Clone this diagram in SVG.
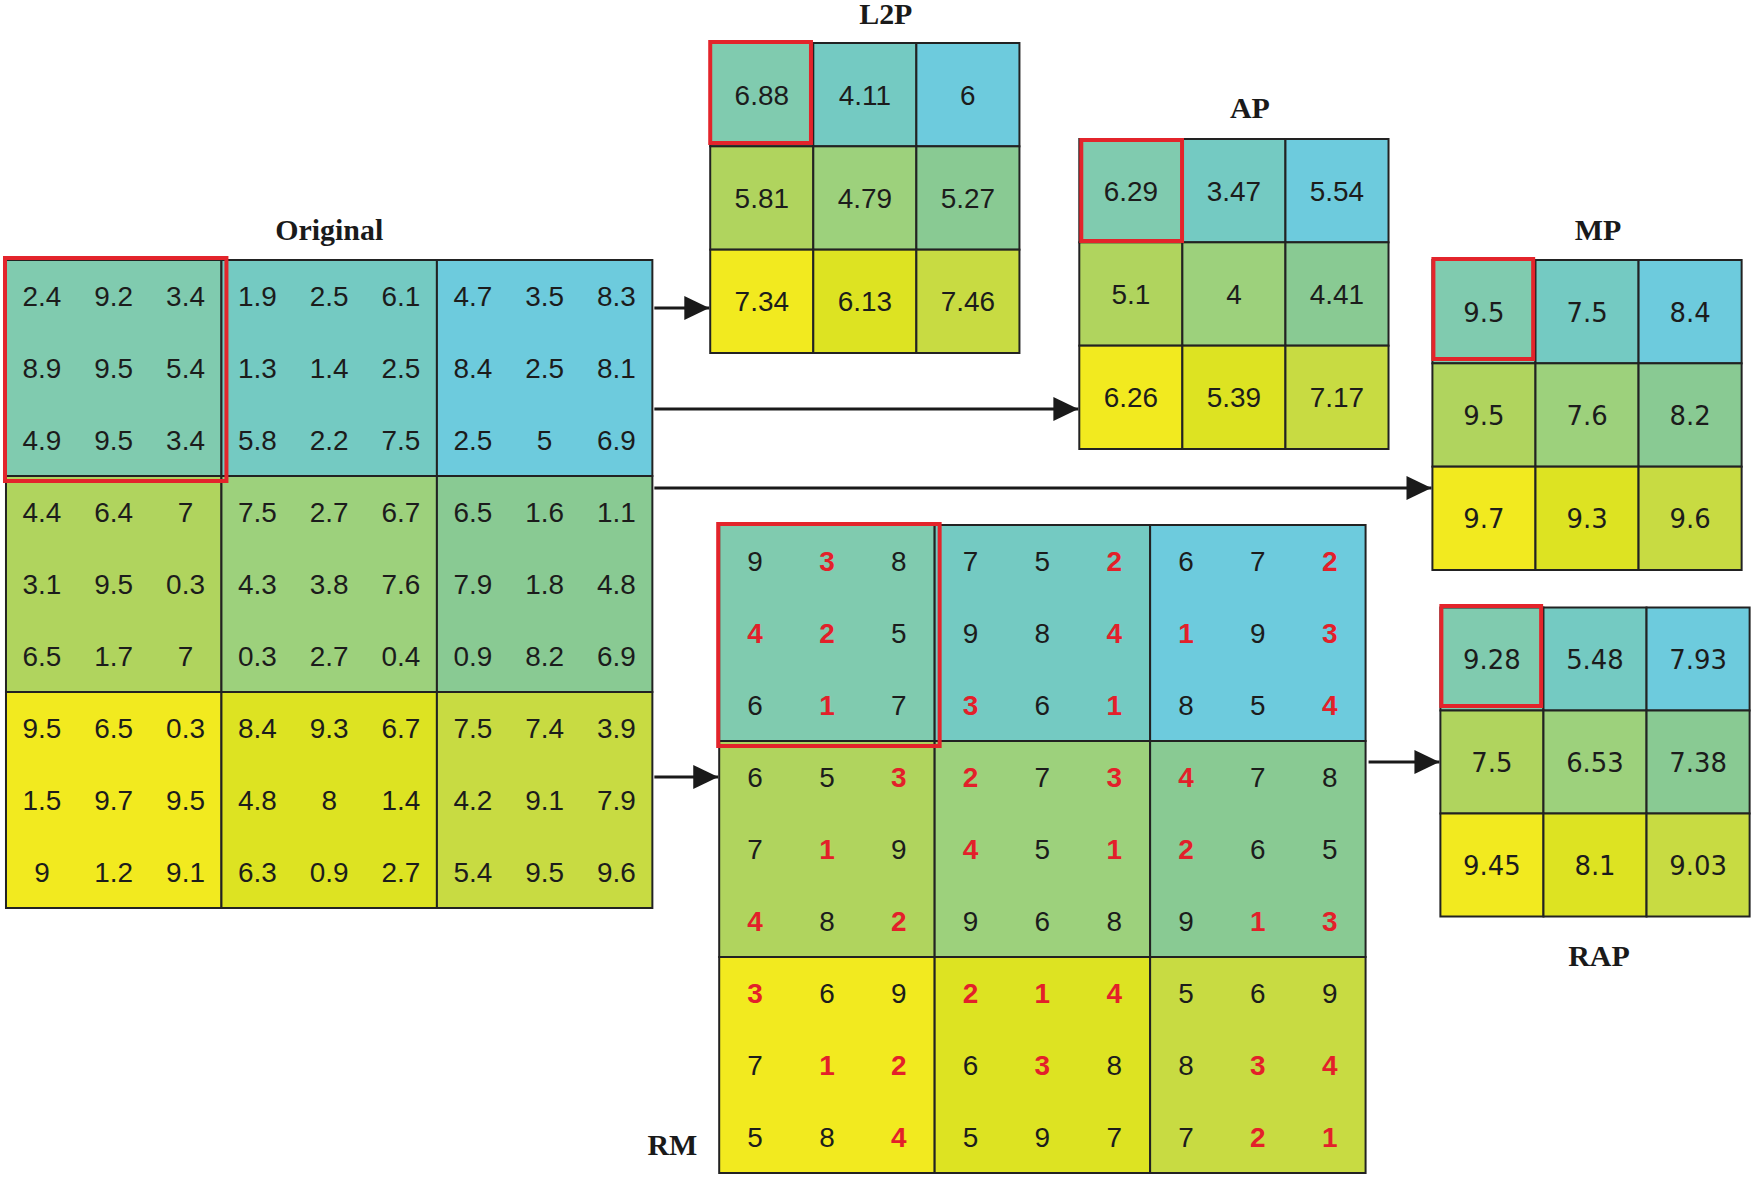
<svg xmlns="http://www.w3.org/2000/svg" width="1757" height="1179" viewBox="0 0 1757 1179">
<defs>
<style>
.n{font-family:"Liberation Sans",Arial,sans-serif;font-size:28px;text-anchor:middle;fill:#1c1c1c}
.w{font-family:"DejaVu Sans","Liberation Sans",sans-serif;font-size:26px;text-anchor:middle;fill:#1c1c1c}
.r{fill:#E3202A;font-weight:bold}
.lbl{font-family:"Liberation Serif","Times New Roman",serif;font-size:30px;font-weight:bold;text-anchor:middle;fill:#1a1a1a}
.c{stroke:#222;stroke-width:2}
.a{fill:#80CBAF}.b{fill:#74CAC2}.d{fill:#6DCBDD}
.e{fill:#B0D45E}.f{fill:#9DD17C}.g{fill:#89CA93}
.h{fill:#F2EA1F}.i{fill:#DDE322}.j{fill:#C8DB42}
.sel{fill:none;stroke:#E3242B;stroke-width:4}
.ln{stroke:#1a1a1a;stroke-width:3;fill:none}
</style>
<marker id="ah" markerUnits="userSpaceOnUse" markerWidth="26" markerHeight="26" refX="25" refY="12" orient="auto" viewBox="0 0 26 24">
<path d="M0,0 L25,12 L0,24 Z" fill="#1a1a1a"/>
</marker>
</defs>
<rect width="1757" height="1179" fill="#ffffff"/>
<g transform="scale(0.9975 1)">

<g id="original">
<rect class="c a" x="6" y="260" width="216" height="216"/>
<rect class="c b" x="222" y="260" width="216" height="216"/>
<rect class="c d" x="438" y="260" width="216" height="216"/>
<rect class="c e" x="6" y="476" width="216" height="216"/>
<rect class="c f" x="222" y="476" width="216" height="216"/>
<rect class="c g" x="438" y="476" width="216" height="216"/>
<rect class="c h" x="6" y="692" width="216" height="216"/>
<rect class="c i" x="222" y="692" width="216" height="216"/>
<rect class="c j" x="438" y="692" width="216" height="216"/>
<text class="lbl" x="330" y="240">Original</text>
<g class="n">
<text x="42" y="306">2.4</text><text x="114" y="306">9.2</text><text x="186" y="306">3.4</text><text x="258" y="306">1.9</text><text x="330" y="306">2.5</text><text x="402" y="306">6.1</text><text x="474" y="306">4.7</text><text x="546" y="306">3.5</text><text x="618" y="306">8.3</text>
<text x="42" y="378">8.9</text><text x="114" y="378">9.5</text><text x="186" y="378">5.4</text><text x="258" y="378">1.3</text><text x="330" y="378">1.4</text><text x="402" y="378">2.5</text><text x="474" y="378">8.4</text><text x="546" y="378">2.5</text><text x="618" y="378">8.1</text>
<text x="42" y="450">4.9</text><text x="114" y="450">9.5</text><text x="186" y="450">3.4</text><text x="258" y="450">5.8</text><text x="330" y="450">2.2</text><text x="402" y="450">7.5</text><text x="474" y="450">2.5</text><text x="546" y="450">5</text><text x="618" y="450">6.9</text>
<text x="42" y="522">4.4</text><text x="114" y="522">6.4</text><text x="186" y="522">7</text><text x="258" y="522">7.5</text><text x="330" y="522">2.7</text><text x="402" y="522">6.7</text><text x="474" y="522">6.5</text><text x="546" y="522">1.6</text><text x="618" y="522">1.1</text>
<text x="42" y="594">3.1</text><text x="114" y="594">9.5</text><text x="186" y="594">0.3</text><text x="258" y="594">4.3</text><text x="330" y="594">3.8</text><text x="402" y="594">7.6</text><text x="474" y="594">7.9</text><text x="546" y="594">1.8</text><text x="618" y="594">4.8</text>
<text x="42" y="666">6.5</text><text x="114" y="666">1.7</text><text x="186" y="666">7</text><text x="258" y="666">0.3</text><text x="330" y="666">2.7</text><text x="402" y="666">0.4</text><text x="474" y="666">0.9</text><text x="546" y="666">8.2</text><text x="618" y="666">6.9</text>
<text x="42" y="738">9.5</text><text x="114" y="738">6.5</text><text x="186" y="738">0.3</text><text x="258" y="738">8.4</text><text x="330" y="738">9.3</text><text x="402" y="738">6.7</text><text x="474" y="738">7.5</text><text x="546" y="738">7.4</text><text x="618" y="738">3.9</text>
<text x="42" y="810">1.5</text><text x="114" y="810">9.7</text><text x="186" y="810">9.5</text><text x="258" y="810">4.8</text><text x="330" y="810">8</text><text x="402" y="810">1.4</text><text x="474" y="810">4.2</text><text x="546" y="810">9.1</text><text x="618" y="810">7.9</text>
<text x="42" y="882">9</text><text x="114" y="882">1.2</text><text x="186" y="882">9.1</text><text x="258" y="882">6.3</text><text x="330" y="882">0.9</text><text x="402" y="882">2.7</text><text x="474" y="882">5.4</text><text x="546" y="882">9.5</text><text x="618" y="882">9.6</text>
</g>
<rect class="sel" x="5" y="258" width="222" height="223"/>
</g>

<g id="l2p">
<rect class="c a" x="712" y="43" width="103.33" height="103.33"/>
<rect class="c b" x="815.33" y="43" width="103.33" height="103.33"/>
<rect class="c d" x="918.67" y="43" width="103.33" height="103.33"/>
<rect class="c e" x="712" y="146.33" width="103.33" height="103.33"/>
<rect class="c f" x="815.33" y="146.33" width="103.33" height="103.33"/>
<rect class="c g" x="918.67" y="146.33" width="103.33" height="103.33"/>
<rect class="c h" x="712" y="249.67" width="103.33" height="103.33"/>
<rect class="c i" x="815.33" y="249.67" width="103.33" height="103.33"/>
<rect class="c j" x="918.67" y="249.67" width="103.33" height="103.33"/>
<text class="lbl" x="888" y="24">L2P</text>
<g class="n">
<text x="763.7" y="104.7">6.88</text><text x="867" y="104.7">4.11</text><text x="970.3" y="104.7">6</text>
<text x="763.7" y="208">5.81</text><text x="867" y="208">4.79</text><text x="970.3" y="208">5.27</text>
<text x="763.7" y="311.3">7.34</text><text x="867" y="311.3">6.13</text><text x="970.3" y="311.3">7.46</text>
</g>
<rect class="sel" x="712" y="42" width="101" height="101"/>
</g>

<g id="ap">
<rect class="c a" x="1082" y="139" width="103.33" height="103.33"/>
<rect class="c b" x="1185.33" y="139" width="103.33" height="103.33"/>
<rect class="c d" x="1288.67" y="139" width="103.33" height="103.33"/>
<rect class="c e" x="1082" y="242.33" width="103.33" height="103.33"/>
<rect class="c f" x="1185.33" y="242.33" width="103.33" height="103.33"/>
<rect class="c g" x="1288.67" y="242.33" width="103.33" height="103.33"/>
<rect class="c h" x="1082" y="345.67" width="103.33" height="103.33"/>
<rect class="c i" x="1185.33" y="345.67" width="103.33" height="103.33"/>
<rect class="c j" x="1288.67" y="345.67" width="103.33" height="103.33"/>
<text class="lbl" x="1253" y="118">AP</text>
<g class="n">
<text x="1133.7" y="200.7">6.29</text><text x="1237" y="200.7">3.47</text><text x="1340.3" y="200.7">5.54</text>
<text x="1133.7" y="304">5.1</text><text x="1237" y="304">4</text><text x="1340.3" y="304">4.41</text>
<text x="1133.7" y="407.3">6.26</text><text x="1237" y="407.3">5.39</text><text x="1340.3" y="407.3">7.17</text>
</g>
<rect class="sel" x="1084" y="140" width="101" height="101"/>
</g>

<g id="mp">
<rect class="c a" x="1436" y="260" width="103.33" height="103.33"/>
<rect class="c b" x="1539.33" y="260" width="103.33" height="103.33"/>
<rect class="c d" x="1642.67" y="260" width="103.33" height="103.33"/>
<rect class="c e" x="1436" y="363.33" width="103.33" height="103.33"/>
<rect class="c f" x="1539.33" y="363.33" width="103.33" height="103.33"/>
<rect class="c g" x="1642.67" y="363.33" width="103.33" height="103.33"/>
<rect class="c h" x="1436" y="466.67" width="103.33" height="103.33"/>
<rect class="c i" x="1539.33" y="466.67" width="103.33" height="103.33"/>
<rect class="c j" x="1642.67" y="466.67" width="103.33" height="103.33"/>
<text class="lbl" x="1602" y="240">MP</text>
<g class="w">
<text x="1487.7" y="321.7">9.5</text><text x="1591" y="321.7">7.5</text><text x="1694.3" y="321.7">8.4</text>
<text x="1487.7" y="425">9.5</text><text x="1591" y="425">7.6</text><text x="1694.3" y="425">8.2</text>
<text x="1487.7" y="528.3">9.7</text><text x="1591" y="528.3">9.3</text><text x="1694.3" y="528.3">9.6</text>
</g>
<rect class="sel" x="1437" y="259" width="100" height="100"/>
</g>

<g id="rap">
<rect class="c a" x="1444" y="607.5" width="103.33" height="103"/>
<rect class="c b" x="1547.33" y="607.5" width="103.33" height="103"/>
<rect class="c d" x="1650.67" y="607.5" width="103.33" height="103"/>
<rect class="c e" x="1444" y="710.5" width="103.33" height="103"/>
<rect class="c f" x="1547.33" y="710.5" width="103.33" height="103"/>
<rect class="c g" x="1650.67" y="710.5" width="103.33" height="103"/>
<rect class="c h" x="1444" y="813.5" width="103.33" height="103"/>
<rect class="c i" x="1547.33" y="813.5" width="103.33" height="103"/>
<rect class="c j" x="1650.67" y="813.5" width="103.33" height="103"/>
<text class="lbl" x="1603" y="966">RAP</text>
<g class="w">
<text x="1495.7" y="669">9.28</text><text x="1599" y="669">5.48</text><text x="1702.3" y="669">7.93</text>
<text x="1495.7" y="772">7.5</text><text x="1599" y="772">6.53</text><text x="1702.3" y="772">7.38</text>
<text x="1495.7" y="875">9.45</text><text x="1599" y="875">8.1</text><text x="1702.3" y="875">9.03</text>
</g>
<rect class="sel" x="1445" y="606" width="100" height="100"/>
</g>

<g id="rm">
<rect class="c a" x="721" y="525" width="216" height="216"/>
<rect class="c b" x="937" y="525" width="216" height="216"/>
<rect class="c d" x="1153" y="525" width="216" height="216"/>
<rect class="c e" x="721" y="741" width="216" height="216"/>
<rect class="c f" x="937" y="741" width="216" height="216"/>
<rect class="c g" x="1153" y="741" width="216" height="216"/>
<rect class="c h" x="721" y="957" width="216" height="216"/>
<rect class="c i" x="937" y="957" width="216" height="216"/>
<rect class="c j" x="1153" y="957" width="216" height="216"/>
<text class="lbl" x="674" y="1155">RM</text>
<g class="n">
<text x="757" y="571">9</text><text class="r" x="829" y="571">3</text><text x="901" y="571">8</text><text x="973" y="571">7</text><text x="1045" y="571">5</text><text class="r" x="1117" y="571">2</text><text x="1189" y="571">6</text><text x="1261" y="571">7</text><text class="r" x="1333" y="571">2</text>
<text class="r" x="757" y="643">4</text><text class="r" x="829" y="643">2</text><text x="901" y="643">5</text><text x="973" y="643">9</text><text x="1045" y="643">8</text><text class="r" x="1117" y="643">4</text><text class="r" x="1189" y="643">1</text><text x="1261" y="643">9</text><text class="r" x="1333" y="643">3</text>
<text x="757" y="715">6</text><text class="r" x="829" y="715">1</text><text x="901" y="715">7</text><text class="r" x="973" y="715">3</text><text x="1045" y="715">6</text><text class="r" x="1117" y="715">1</text><text x="1189" y="715">8</text><text x="1261" y="715">5</text><text class="r" x="1333" y="715">4</text>
<text x="757" y="787">6</text><text x="829" y="787">5</text><text class="r" x="901" y="787">3</text><text class="r" x="973" y="787">2</text><text x="1045" y="787">7</text><text class="r" x="1117" y="787">3</text><text class="r" x="1189" y="787">4</text><text x="1261" y="787">7</text><text x="1333" y="787">8</text>
<text x="757" y="859">7</text><text class="r" x="829" y="859">1</text><text x="901" y="859">9</text><text class="r" x="973" y="859">4</text><text x="1045" y="859">5</text><text class="r" x="1117" y="859">1</text><text class="r" x="1189" y="859">2</text><text x="1261" y="859">6</text><text x="1333" y="859">5</text>
<text class="r" x="757" y="931">4</text><text x="829" y="931">8</text><text class="r" x="901" y="931">2</text><text x="973" y="931">9</text><text x="1045" y="931">6</text><text x="1117" y="931">8</text><text x="1189" y="931">9</text><text class="r" x="1261" y="931">1</text><text class="r" x="1333" y="931">3</text>
<text class="r" x="757" y="1003">3</text><text x="829" y="1003">6</text><text x="901" y="1003">9</text><text class="r" x="973" y="1003">2</text><text class="r" x="1045" y="1003">1</text><text class="r" x="1117" y="1003">4</text><text x="1189" y="1003">5</text><text x="1261" y="1003">6</text><text x="1333" y="1003">9</text>
<text x="757" y="1075">7</text><text class="r" x="829" y="1075">1</text><text class="r" x="901" y="1075">2</text><text x="973" y="1075">6</text><text class="r" x="1045" y="1075">3</text><text x="1117" y="1075">8</text><text x="1189" y="1075">8</text><text class="r" x="1261" y="1075">3</text><text class="r" x="1333" y="1075">4</text>
<text x="757" y="1147">5</text><text x="829" y="1147">8</text><text class="r" x="901" y="1147">4</text><text x="973" y="1147">5</text><text x="1045" y="1147">9</text><text x="1117" y="1147">7</text><text x="1189" y="1147">7</text><text class="r" x="1261" y="1147">2</text><text class="r" x="1333" y="1147">1</text>
</g>
<rect class="sel" x="720" y="524" width="222" height="222"/>
</g>

<g id="connectors">
<line class="ln" x1="656" y1="308" x2="711" y2="308" marker-end="url(#ah)"/>
<line class="ln" x1="656" y1="409" x2="1081" y2="409" marker-end="url(#ah)"/>
<line class="ln" x1="656" y1="488" x2="1435" y2="488" marker-end="url(#ah)"/>
<line class="ln" x1="656" y1="777" x2="720" y2="777" marker-end="url(#ah)"/>
<line class="ln" x1="1372" y1="762" x2="1443" y2="762" marker-end="url(#ah)"/>
</g>
</g>
</svg>
